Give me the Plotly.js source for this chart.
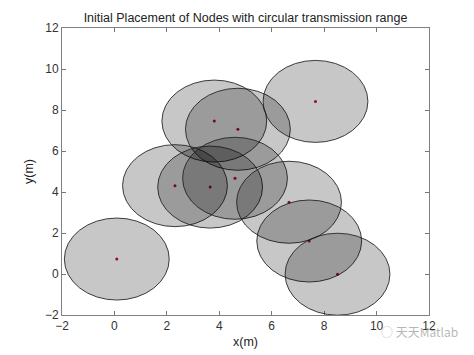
<!DOCTYPE html>
<html>
<head>
<meta charset="utf-8">
<script src="https://cdn.plot.ly/plotly-3.0.1.min.js"></script>
<style>html,body{margin:0;padding:0;background:#fff;}#chart{width:474px;height:355px;}</style>
</head>
<body>
<div id="chart"></div>
<script>
const nodeX = [0.09, 3.81, 4.71, 7.67, 2.31, 3.65, 4.60, 6.66, 7.43, 8.51];
const nodeY = [0.73, 7.46, 7.06, 8.42, 4.31, 4.24, 4.67, 3.50, 1.61, -0.01];
const range = 2;
const tickVals = [-2, 0, 2, 4, 6, 8, 10, 12];

const shapes = nodeX.map((x, i) => ({
  type: 'circle', xref: 'x', yref: 'y', layer: 'above',
  x0: x - range, x1: x + range, y0: nodeY[i] - range, y1: nodeY[i] + range,
  fillcolor: 'rgba(0,0,0,0.22)',
  line: {color: 'rgba(30,30,30,0.85)', width: 1}
}));

const trace = {
  x: nodeX, y: nodeY, mode: 'markers', type: 'scatter',
  marker: {color: '#c01030', size: 3}, hoverinfo: 'skip', showlegend: false
};

const axisCommon = {
  range: [-2, 12], tickvals: tickVals, ticks: 'inside', ticklen: 4, tickcolor: '#777',
  showline: true, linecolor: '#808080', linewidth: 1, mirror: 'ticks',
  showgrid: false, zeroline: false,
  tickfont: {family: 'Liberation Sans, Arial, sans-serif', size: 12, color: '#333'}
};

const layout = {
  width: 474, height: 355,
  margin: {l: 62, r: 45, t: 28, b: 40},
  paper_bgcolor: '#fff', plot_bgcolor: '#fff',
  title: {text: 'Initial Placement of Nodes with circular transmission range',
    font: {family: 'Liberation Sans, Arial, sans-serif', size: 12.5, color: '#222'},
    xref: 'paper', x: 0.5, xanchor: 'center', yref: 'container', y: 0.95, yanchor: 'middle'},
  xaxis: Object.assign({}, axisCommon, {
    title: {text: 'x(m)', font: {family: 'Liberation Sans, Arial, sans-serif', size: 12.5, color: '#222'}, standoff: 4}
  }),
  yaxis: Object.assign({}, axisCommon, {
    title: {text: 'y(m)', font: {family: 'Liberation Sans, Arial, sans-serif', size: 12.5, color: '#222'}, standoff: 8}
  }),
  shapes: shapes,
  annotations: [{
    xref: 'paper', yref: 'paper', x: 1.085, y: -0.056, xanchor: 'right', yanchor: 'middle',
    text: '◌ 天天Matlab', showarrow: false,
    font: {family: 'Noto Sans CJK SC, sans-serif', size: 12, color: 'rgba(150,150,150,0.7)'}
  }]
};

Plotly.newPlot('chart', [trace], layout, {displayModeBar: false, staticPlot: true});
</script>
</body>
</html>
